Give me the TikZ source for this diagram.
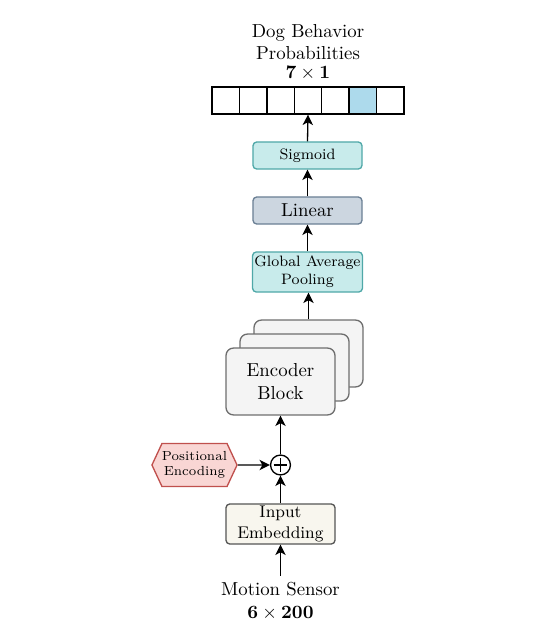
\documentclass[tikz,border=0pt]{standalone}
\usetikzlibrary{arrows.meta,shapes.symbols}
\definecolor{tealfill}{HTML}{C8EBEB}
\definecolor{tealdraw}{HTML}{4FA8A8}
\definecolor{linfill}{HTML}{CCD6E0}
\definecolor{lindraw}{HTML}{6A7F94}
\definecolor{encfill}{HTML}{F4F4F4}
\definecolor{encdraw}{HTML}{6E6E6E}
\definecolor{pefill}{HTML}{F9D6D4}
\definecolor{pedraw}{HTML}{C0504D}
\definecolor{embfill}{HTML}{F8F6EE}
\definecolor{embdraw}{HTML}{555555}
\definecolor{cellblue}{HTML}{ADDAEC}
\begin{document}
\begin{tikzpicture}[x=0.532pt,y=-0.532pt,
  box/.style={draw, rounded corners=2pt, line width=0.7pt, minimum width=58pt, align=center, inner sep=1pt},
  tealbox/.style={box, fill=tealfill, draw=tealdraw, font=\footnotesize},
  encbox/.style={draw=encdraw, fill=encfill, rounded corners=4pt, line width=0.7pt, minimum width=58pt, minimum height=35.6pt, align=center},
  cell/.style={draw, line width=0.7pt, minimum width=14.59pt, minimum height=14.4pt, inner sep=0pt},
  arr/.style={-{Stealth[length=5.5pt,width=5.5pt,inset=1.5pt]}, line width=0.7pt}]
\useasboundingbox (0,0) rectangle (555,642);
% output vector
\foreach \i in {1,...,7} {
  \node[cell] (c\i) at ({212+27.43*(\i-0.5)},100.5) {};
}
\node[cell, fill=cellblue] at (c6) {};
\node[align=center, inner sep=0.5pt, text depth=0pt, anchor=south] (title) at (308,61) {Dog Behavior\\Probabilities};
\node[inner sep=0.5pt] (dimout) at (308,73.5) {$\mathbf{7\times 1}$};
% head
\node[tealbox, minimum height=14.4pt] (sig) at (307.5,155.5) {Sigmoid};
\node[box, fill=linfill, draw=lindraw, minimum height=14.4pt] (lin) at (307.5,210.5) {Linear};
\node[tealbox, minimum height=21.3pt] (gap) at (307.5,272) {Global Average\\Pooling};
% encoder stack
\node[encbox] (enc3) at (308.5,353.5) {};
\node[encbox] (enc2) at (294.5,367.5) {};
\node[encbox] (enc1) at (280.5,381.5) {Encoder\\Block};
% plus
\node[draw, circle, line width=0.7pt, minimum size=10.6pt, inner sep=0pt, fill=white,
  path picture={\draw[line width=0.7pt] ([xshift=-3.6pt]path picture bounding box.center) -- ([xshift=3.6pt]path picture bounding box.center)
  ([yshift=-3.6pt]path picture bounding box.center) -- ([yshift=3.6pt]path picture bounding box.center);}] (plus) at (280.5,465) {};
\node[shape=signal, signal to=west and east, signal pointer angle=130, draw=pedraw, fill=pefill, line width=0.7pt,
  minimum width=42pt, minimum height=22.9pt, inner xsep=0pt, inner ysep=1pt, align=center, font=\scriptsize] (pe) at (194.5,465) {Positional\\Encoding};
\node[box, fill=embfill, draw=embdraw, minimum height=21.3pt, font=\small] (emb) at (280.5,524) {Input\\Embedding};
\node (motion) at (280.5,589) {Motion Sensor};
\node (dimin) at (280.5,613) {$\mathbf{6\times 200}$};
% connectors
\draw[arr] (sig.north) -- (c4.south);
\draw[arr] (lin) -- (sig);
\draw[arr] (gap) -- (lin);
\draw[arr] (enc3.north) -- (enc3.north |- gap.south);
\draw[arr] (plus) -- (enc1);
\draw[arr] (pe) -- (plus);
\draw[arr] (emb) -- (plus);
\draw[arr] (motion) -- (emb);
\end{tikzpicture}
\end{document}
